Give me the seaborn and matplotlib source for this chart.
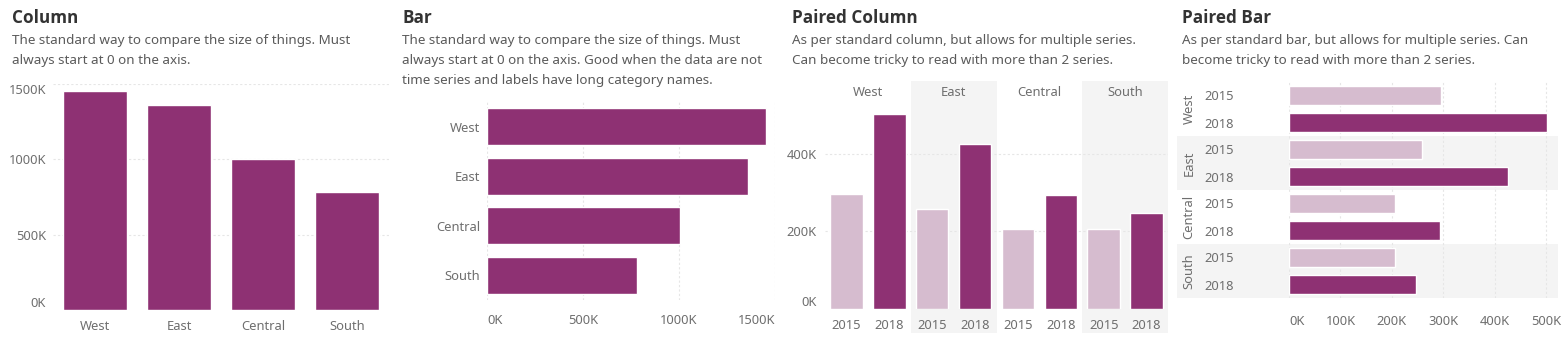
import matplotlib
matplotlib.use("Agg")
import matplotlib.pyplot as plt
import matplotlib.transforms as mtrans
import seaborn as sns
import pandas as pd
import numpy as np

# ---------------- data ----------------
regions = ["West", "East", "Central", "South"]
totals = [1452000, 1360000, 1005000, 783000]
years = ["2015", "2018"]
sales_2015 = [296000, 258000, 207000, 207000]
sales_2018 = [501000, 426000, 293000, 246000]

col_ticks = [0, 500000, 1000000, 1500000]
col_ticklabels = ["0K", "500K", "1000K", "1500K"]
pc_ticks = [0, 200000, 400000]
pc_ticklabels = ["0K", "200K", "400K"]
pb_ticks = [0, 100000, 200000, 300000, 400000, 500000]
pb_ticklabels = ["0K", "100K", "200K", "300K", "400K", "500K"]

titles = ["Column", "Bar", "Paired Column", "Paired Bar"]
subtitles = [
    "The standard way to compare the size of things. Must\nalways start at 0 on the axis.",
    "The standard way to compare the size of things. Must\nalways start at 0 on the axis. Good when the data are not\ntime series and labels have long category names.",
    "As per standard column, but allows for multiple series.\nCan become tricky to read with more than 2 series.",
    "As per standard bar, but allows for multiple series. Can\nbecome tricky to read with more than 2 series.",
]

# ---------------- style ----------------
DARK = "#8E3173"
LIGHT = "#D6BCCF"
BAND = "#F4F4F4"
GRID = "#E6E6E6"
TICK = "#6E6E6E"
TITLE_C = "#333333"
SUB_C = "#5A5A5A"
TS = 9.3

sns.set_theme(style="white")
plt.rcParams["font.family"] = ["Noto Sans", "DejaVu Sans"]

df_tot = pd.DataFrame({"region": regions, "sales": totals})
df_pair = pd.DataFrame({
    "region": regions * 2,
    "year": [years[0]] * 4 + [years[1]] * 4,
    "sales": sales_2015 + sales_2018,
})
pal = {years[0]: LIGHT, years[1]: DARK}

W, H = 1568, 354
fig = plt.figure(figsize=(W / 100, H / 100), dpi=100)


def rect(l, t, r, b):
    return [l / W, 1 - b / H, (r - l) / W, (b - t) / H]


def clean(ax):
    for s in ax.spines.values():
        s.set_visible(False)
    ax.set_xlabel("")
    ax.set_ylabel("")
    ax.tick_params(length=0, colors=TICK, labelsize=TS)


def bar_patches(ax):
    out = []
    for c in ax.containers:
        out.extend(list(c))
    return out


# headers
title_x = [12, 402, 792, 1182]
for tx, t, st in zip(title_x, titles, subtitles):
    fig.text(tx / W, 1 - 18 / H, t, fontsize=12.3, fontweight="bold",
             family=["Open Sans", "DejaVu Sans"],
             color=TITLE_C, va="center", ha="left")
    fig.text(tx / W, 1 - 34 / H, st, fontsize=9.7, color=SUB_C,
             va="top", ha="left", linespacing=1.72)

# ---------------- Panel 1: Column ----------------
ax1 = fig.add_axes(rect(53, 84, 389, 310))
sns.barplot(data=df_tot, x="region", y="sales", color=DARK, width=0.76,
            ax=ax1, saturation=1)
ax1.set_ylim(0, 1500000)
ax1.set_xlim(-0.5, len(regions) - 0.5)
ax1.set_yticks(col_ticks)
ax1.set_yticklabels(col_ticklabels)
for y in col_ticks[1:]:
    ax1.axhline(y, color=GRID, lw=0.8, ls=(0, (2, 2)), zorder=0)
clean(ax1)
ax1.tick_params(axis="y", pad=5)
ax1.tick_params(axis="x", pad=7)
ax1.set_xticks([-0.5 + i for i in range(len(regions))], minor=True)
ax1.tick_params(axis="x", which="minor", length=4, color=GRID, width=0.8)
ylabs = ax1.get_yticklabels()
ylabs[0].set_va("bottom")
ylabs[-1].set_va("top")

# ---------------- Panel 2: Bar ----------------
ax2 = fig.add_axes(rect(487, 101.7, 775, 300.3))
sns.barplot(data=df_tot, y="region", x="sales", color=DARK, width=0.745,
            orient="h", ax=ax2, saturation=1)
ax2.set_xlim(0, 1500000)
ax2.set_xticks(col_ticks)
ax2.set_xticklabels(col_ticklabels)
for x in col_ticks:
    ax2.axvline(x, color=GRID, lw=0.8, ls=(0, (2, 2)), zorder=0)
clean(ax2)
ax2.tick_params(axis="y", pad=5)
ax2.tick_params(axis="x", pad=10)
xl = ax2.get_xticklabels()
xl[0].set_ha("left")
xl[-1].set_ha("right")

# ---------------- Panel 3: Paired Column ----------------
ax3 = fig.add_axes(rect(825, 81, 1168, 309))
for i in (1, 3):
    ax3.axvspan(i - 0.5, i + 0.5, ymin=-0.105, ymax=1, color=BAND,
                zorder=0, clip_on=False, lw=0)
sns.barplot(data=df_pair, x="region", y="sales", hue="year", palette=pal,
            hue_order=years, width=1.0, gap=0.24, ax=ax3, saturation=1,
            legend=False)
ax3.set_xlim(-0.5, len(regions) - 0.5)
ax3.set_ylim(0, 587000)
ax3.set_yticks(pc_ticks)
ax3.set_yticklabels(pc_ticklabels)
for y in pc_ticks[1:]:
    ax3.axhline(y, color=GRID, lw=0.8, ls=(0, (2, 2)), zorder=0.5)
centers = sorted(p.get_x() + p.get_width() / 2 for p in bar_patches(ax3))
ax3.set_xticks(centers)
ax3.set_xticklabels(years * len(regions))
trans3 = mtrans.blended_transform_factory(ax3.transData, ax3.transAxes)
for i, r in enumerate(regions):
    ax3.text(i, 0.949, r, transform=trans3, ha="center", va="center",
             fontsize=TS, color=TICK)
clean(ax3)
ax3.tick_params(axis="y", pad=6)
ax3.tick_params(axis="x", pad=7)
ax3.set_xticks([i * 0.5 - 0.5 for i in range(2 * len(regions))], minor=True)
ax3.tick_params(axis="x", which="minor", length=4, color=GRID, width=0.8)
ax3.get_yticklabels()[0].set_va("bottom")

# ---------------- Panel 4: Paired Bar ----------------
ax4 = fig.add_axes(rect(1289, 82, 1558, 298))
for i in (1, 3):
    ax4.axhspan(i - 0.5, i + 0.5, xmin=-0.417, xmax=1, color=BAND,
                zorder=0, clip_on=False, lw=0)
sns.barplot(data=df_pair, y="region", x="sales", hue="year", palette=pal,
            hue_order=years, width=1.0, gap=0.26, orient="h", ax=ax4,
            saturation=1, legend=False)
ax4.set_ylim(len(regions) - 0.5, -0.5)
ax4.set_xlim(0, 523000)
ax4.set_xticks(pb_ticks)
ax4.set_xticklabels(pb_ticklabels)
for x in pb_ticks:
    ax4.axvline(x, color=GRID, lw=0.8, ls=(0, (2, 2)), zorder=0.5)
ycent = sorted(p.get_y() + p.get_height() / 2 for p in bar_patches(ax4))
ax4.set_yticks(ycent)
ax4.set_yticklabels(years * len(regions))
trans4 = mtrans.blended_transform_factory(ax4.transAxes, ax4.transData)
for i, r in enumerate(regions):
    ax4.text(-0.371, i, r, transform=trans4, ha="center", va="center",
             rotation=90, fontsize=TS, color=TICK)
clean(ax4)
ax4.tick_params(axis="y", pad=40)
ax4.tick_params(axis="x", pad=12)
ax4.get_xticklabels()[0].set_ha("left")

fig.savefig("out.png", dpi=100, facecolor="white")
